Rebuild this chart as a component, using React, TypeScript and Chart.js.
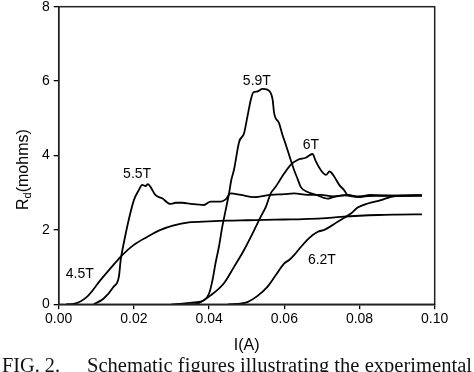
import React, { useEffect, useRef } from 'react';
import { Chart, registerables } from 'chart.js';

Chart.register(...registerables);

// Current I (A) and differential resistance Rd (mohms) per field
const current45 = [0.002, 0.0039, 0.0075, 0.0111, 0.0137, 0.0164, 0.0199, 0.0235, 0.0271, 0.0306, 0.0346, 0.040, 0.045, 0.050, 0.055, 0.060, 0.065, 0.070, 0.075, 0.080, 0.085, 0.090, 0.0966];
const rd45 = [0, 0.01, 0.2, 0.65, 0.96, 1.27, 1.59, 1.81, 2.0, 2.12, 2.2, 2.23, 2.25, 2.26, 2.27, 2.28, 2.29, 2.31, 2.35, 2.38, 2.4, 2.41, 2.42];

const current55 = [0.0093, 0.0119, 0.0146, 0.016, 0.0165, 0.0173, 0.0186, 0.020, 0.0213, 0.0222, 0.0231, 0.0237, 0.0244, 0.0257, 0.0275, 0.0297, 0.0311, 0.0329, 0.0351, 0.0386, 0.0404, 0.0431, 0.0444, 0.0457, 0.0484, 0.052, 0.0564, 0.060, 0.0626, 0.0662, 0.0697, 0.073, 0.077, 0.080, 0.083, 0.087, 0.090, 0.0966];
const rd55 = [0, 0.15, 0.47, 0.74, 1.2, 1.64, 2.26, 2.8, 3.07, 3.21, 3.18, 3.23, 3.16, 2.94, 2.85, 2.7, 2.73, 2.73, 2.7, 2.67, 2.76, 2.76, 2.82, 2.98, 2.94, 2.88, 2.94, 2.96, 2.98, 2.94, 2.94, 2.9, 2.94, 2.88, 2.93, 2.92, 2.91, 2.93];

const current59 = [0.030, 0.033, 0.036, 0.0386, 0.040, 0.0409, 0.0417, 0.0426, 0.0435, 0.0444, 0.0453, 0.0459, 0.0466, 0.048, 0.0493, 0.0502, 0.0511, 0.0518, 0.0528, 0.0542, 0.0555, 0.0564, 0.0569, 0.0573, 0.0586, 0.0595, 0.0604, 0.0617, 0.0626, 0.0635, 0.0644, 0.0662, 0.0689, 0.0706, 0.0715, 0.073, 0.076, 0.080, 0.085, 0.090, 0.0966];
const rd59 = [0, 0.02, 0.05, 0.11, 0.29, 0.65, 1.1, 1.54, 2.08, 2.53, 2.98, 3.34, 3.61, 4.37, 4.6, 5.05, 5.5, 5.7, 5.72, 5.79, 5.77, 5.68, 5.5, 5.14, 4.87, 4.56, 4.29, 3.88, 3.61, 3.38, 3.15, 3.02, 2.93, 2.86, 2.84, 2.88, 2.93, 2.9, 2.92, 2.92, 2.92];

const current60 = [0.035, 0.0369, 0.0404, 0.0439, 0.0466, 0.0493, 0.0511, 0.0524, 0.0537, 0.0551, 0.0564, 0.0577, 0.0586, 0.060, 0.0617, 0.0635, 0.0657, 0.0675, 0.0684, 0.0697, 0.0711, 0.072, 0.0733, 0.0746, 0.0759, 0.0768, 0.0795, 0.083, 0.087, 0.0966];
const rd60 = [0, 0.02, 0.24, 0.56, 1.0, 1.46, 1.81, 2.08, 2.35, 2.62, 2.98, 3.16, 3.3, 3.52, 3.75, 3.88, 3.94, 4.04, 3.84, 3.61, 3.48, 3.57, 3.43, 3.21, 3.07, 2.94, 2.89, 2.94, 2.92, 2.93];

const current62 = [0.045, 0.0484, 0.0502, 0.0528, 0.0555, 0.0577, 0.060, 0.0613, 0.0626, 0.0644, 0.0666, 0.0689, 0.0706, 0.0742, 0.0777, 0.0795, 0.0822, 0.0857, 0.0884, 0.091, 0.0966];
const rd62 = [0, 0.02, 0.06, 0.22, 0.47, 0.78, 1.1, 1.19, 1.32, 1.54, 1.78, 1.95, 2.0, 2.22, 2.44, 2.6, 2.71, 2.8, 2.89, 2.92, 2.93];

const seriesNames = ['4.5T', '5.5T', '5.9T', '6T', '6.2T'];
const labelI = [0.0056, 0.02085, 0.0527, 0.0671, 0.070];
const labelR = [0.81, 3.51, 6.0, 4.28, 1.2];

const xTickValues = [0, 0.02, 0.04, 0.06, 0.08, 0.1];
const xTickLabels = ['0.00', '0.02', '0.04', '0.06', '0.08', '0.10'];
const yTickValues = [0, 2, 4, 6, 8];
const yTickLabels = ['0', '2', '4', '6', '8'];

const xTitle = 'I(A)';
const yTitleMain = 'R';
const yTitleSub = 'd';
const yTitleRest = '(mohms)';
const captionHead = 'FIG. 2.';
const captionBody = 'Schematic figures illustrating the experimental';

const SANS = '"Liberation Sans", Arial, Helvetica, sans-serif';
const SERIF = '"Liberation Serif", "Times New Roman", serif';

const toPoints = (xs: number[], ys: number[]) => xs.map((x, i) => ({ x, y: ys[i] }));

const decorPlugin = {
  id: 'decor',
  afterDraw(chart: any) {
    const { ctx, chartArea: a, scales } = chart;
    ctx.save();
    ctx.strokeStyle = '#222';
    ctx.lineWidth = 1.5;
    ctx.strokeRect(a.left, a.top, a.right - a.left, a.bottom - a.top);

    ctx.fillStyle = '#000';
    ctx.font = `14px ${SANS}`;
    ctx.textAlign = 'center';
    ctx.textBaseline = 'middle';
    seriesNames.forEach((n, i) => {
      ctx.fillText(n, scales.x.getPixelForValue(labelI[i]), scales.y.getPixelForValue(labelR[i]));
    });

    // x title
    ctx.font = `16px ${SANS}`;
    ctx.fillText(xTitle, (a.left + a.right) / 2, 346);

    // y title (rotated, with subscript)
    ctx.save();
    ctx.translate(28, 210);
    ctx.rotate(-Math.PI / 2);
    ctx.textAlign = 'left';
    ctx.textBaseline = 'alphabetic';
    ctx.font = `16px ${SANS}`;
    ctx.fillText(yTitleMain, 0, 0);
    let off = ctx.measureText(yTitleMain).width;
    ctx.font = `11px ${SANS}`;
    ctx.fillText(yTitleSub, off, 3);
    off += ctx.measureText(yTitleSub).width;
    ctx.font = `16px ${SANS}`;
    ctx.fillText(yTitleRest, off, 0);
    ctx.restore();

    // caption
    ctx.fillStyle = '#111';
    ctx.font = `20px ${SERIF}`;
    ctx.textAlign = 'left';
    ctx.textBaseline = 'alphabetic';
    const drawFit = (t: string, x0: number, x1: number) => {
      const w = ctx.measureText(t).width;
      ctx.save();
      ctx.translate(x0, 371.5);
      ctx.scale((x1 - x0) / w, 1);
      ctx.fillText(t, 0, 0);
      ctx.restore();
    };
    drawFit(captionHead, 2, 60);
    drawFit(captionBody, 87, 472);
    ctx.restore();
  },
};

export default function App() {
  const ref = useRef<HTMLCanvasElement | null>(null);
  useEffect(() => {
    if (!ref.current) return;
    const mk = (xs: number[], ys: number[]) => ({
      data: toPoints(xs, ys),
      showLine: true,
      borderColor: '#000',
      borderWidth: 1.8,
      pointRadius: 0,
      fill: false,
      cubicInterpolationMode: 'monotone' as const,
      borderJoinStyle: 'round' as const,
    });
    const chart = new Chart(ref.current, {
      type: 'scatter',
      data: {
        datasets: [
          mk(current45, rd45),
          mk(current55, rd55),
          mk(current59, rd59),
          mk(current60, rd60),
          mk(current62, rd62),
        ],
      },
      options: {
        animation: false,
        responsive: false,
        devicePixelRatio: 1,
        layout: { padding: { left: 0, right: 39.3, top: 6.7, bottom: 0 } },
        plugins: { legend: { display: false }, tooltip: { enabled: false } },
        scales: {
          x: {
            type: 'linear',
            min: 0,
            max: 0.1,
            afterBuildTicks: (s: any) => {
              s.ticks = xTickValues.map((v) => ({ value: v }));
            },
            afterFit: (s: any) => {
              s.height = 372 - 304.3;
              s.paddingLeft = 0;
              s.paddingRight = 0;
            },
            ticks: {
              color: '#000',
              font: { family: SANS, size: 14, lineHeight: 1 },
              padding: 3,
              maxRotation: 0,
              callback: (_v: any, i: number) => xTickLabels[i],
            },
            grid: { drawOnChartArea: false, drawTicks: true, tickLength: 5, color: '#000', lineWidth: 1.3 },
            border: { display: true, color: '#111', width: 1.5 },
          },
          y: {
            type: 'linear',
            min: 0,
            max: 8,
            afterBuildTicks: (s: any) => {
              s.ticks = yTickValues.map((v) => ({ value: v }));
            },
            afterFit: (s: any) => {
              s.width = 58.7;
              s.paddingTop = 0;
              s.paddingBottom = 0;
            },
            ticks: {
              color: '#000',
              font: { family: SANS, size: 14, lineHeight: 1 },
              padding: 4,
              callback: (_v: any, i: number) => yTickLabels[i],
            },
            grid: { drawOnChartArea: false, drawTicks: true, tickLength: 5, color: '#000', lineWidth: 1.3 },
            border: { display: true, color: '#111', width: 1.5 },
          },
        },
      },
      plugins: [decorPlugin],
    });
    return () => chart.destroy();
  }, []);
  return (
    <div style={{ position: 'absolute', left: 0, top: 0, width: 474, height: 372, background: '#fff' }}>
      <canvas ref={ref} width={474} height={372} style={{ display: 'block' }} />
    </div>
  );
}
